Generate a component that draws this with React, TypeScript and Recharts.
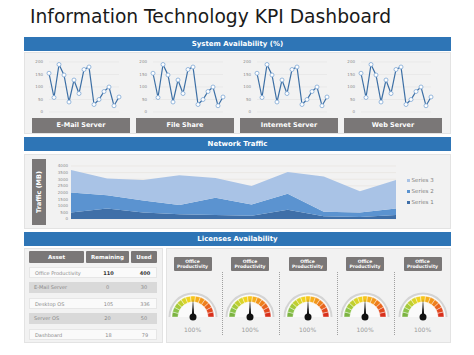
import React from 'react';
import { LineChart, Line, XAxis, YAxis, CartesianGrid, AreaChart, Area, Legend, PieChart, Pie, Cell } from 'recharts';

// system availability (%) - same series shown for each server
const serverNames = ['E-Mail Server', 'File Share', 'Internet Server', 'Web Server'];
const availability = [155, 58, 190, 148, 40, 128, 74, 170, 180, 30, 50, 82, 100, 25, 60];
const availabilityTicks = [0, 50, 100, 150, 200];

// network traffic (MB), stacked
const trafficSeries1 = [500, 800, 500, 350, 300, 250, 700, 200, 150, 300];
const trafficSeries2 = [1500, 1000, 900, 700, 1300, 850, 1200, 350, 350, 500];
const trafficSeries3 = [1700, 1250, 1550, 2250, 1500, 1400, 1650, 2650, 1600, 2150];
const trafficTicks = [0, 500, 1000, 1500, 2000, 2500, 3000, 3500, 4000];

// licenses table
const assetNames = ['Office Productivity', 'E-Mail Server', 'Desktop OS', 'Server OS', 'Dashboard'];
const remaining = [110, 0, 105, 20, 18];
const used = [400, 30, 336, 50, 79];

// gauges
const gaugeLabels = ['Office Productivity', 'Office Productivity', 'Office Productivity', 'Office Productivity', 'Office Productivity'];
const gaugePercent = [100, 100, 100, 100, 100];
const needlePositions = [50, 50, 50, 50, 50];
const bandColors = ['#7cb342', '#8bc34a', '#a5c93a', '#c0cf2f', '#d9d42a', '#f0d31f', '#f7c51c', '#f6ae1c', '#f2961c', '#ee7f1d', '#e8651e', '#e2491e', '#d8301c'];

const BLUE = '#2E75B6';
const GREY_BAR = '#7a7777';
const FONT = '"DejaVu Sans", Verdana, sans-serif';
const RADIAN = Math.PI / 180;

const availabilityData = availability.map((v, i) => ({ idx: i, value: v }));
const trafficData = trafficSeries1.map((v, i) => ({
  idx: i,
  s1: v,
  s2: trafficSeries2[i],
  s3: trafficSeries3[i],
}));
const bandData = bandColors.map((c) => ({ value: 1, fill: c }));
const ringData = [{ value: 100 }];

function HeaderBar({ title, top }: { title: string; top: number }) {
  return (
    <div
      style={{
        position: 'absolute',
        left: 24,
        top,
        width: 427,
        height: 14,
        background: BLUE,
        color: '#fff',
        fontWeight: 'bold',
        fontSize: 7,
        lineHeight: '14px',
        textAlign: 'center',
      }}>
      {title}
    </div>
  );
}

function Panel({ left, top, width, height }: { left: number; top: number; width: number; height: number }) {
  return (
    <div
      style={{
        position: 'absolute',
        left,
        top,
        width,
        height,
        background: '#f2f2f2',
        border: '1px solid #e3e3e3',
        boxSizing: 'border-box',
      }}
    />
  );
}

function ServerChart({ name, left }: { name: string; left: number }) {
  return (
    <div style={{ position: 'absolute', left, top: 56, width: 98 }}>
      <LineChart width={98} height={60} data={availabilityData} margin={{ top: 6, right: 11, bottom: 4, left: 0 }}>
        <CartesianGrid vertical={false} stroke='#e2e2e2' strokeWidth={0.6} />
        <XAxis dataKey='idx' hide />
        <YAxis
          domain={[0, 200]}
          ticks={availabilityTicks}
          interval={0}
          width={17}
          tick={{ fontSize: 4, fill: '#8c8c8c' }}
          tickLine={false}
          axisLine={false}
          tickSize={4}
          tickMargin={2}
        />
        <Line
          dataKey='value'
          stroke='#3c6fa5'
          strokeWidth={1.2}
          dot={{ r: 2, fill: '#fff', stroke: '#7fa8d6', strokeWidth: 0.8 }}
          isAnimationActive={false}
        />
      </LineChart>
      <div
        style={{
          position: 'absolute',
          left: 0,
          top: 62,
          width: 98,
          height: 15,
          background: GREY_BAR,
          color: '#fff',
          fontWeight: 'bold',
          fontSize: 6.5,
          lineHeight: '15px',
          textAlign: 'center',
        }}>
        {name}
      </div>
    </div>
  );
}

const renderLegend = (props: any) => {
  const items = [...(props.payload || [])].reverse();
  return (
    <div style={{ paddingLeft: 11 }}>
      {items.map((item: any) => (
        <div key={item.value} style={{ display: 'flex', alignItems: 'center', height: 11, fontSize: 5.5, color: '#7f7f7f' }}>
          <span style={{ width: 3, height: 3, background: item.color, marginRight: 1.5, display: 'inline-block' }} />
          {item.value}
        </div>
      ))}
    </div>
  );
};

// needle drawn on the end of the first (value) slice
const renderNeedle = (props: any) => {
  const { cx, cy, index, outerRadius } = props;
  if (index !== 0) return <g key={`n-${index}`} />;
  const angle = props.endAngle ?? props.midAngle;
  const c = Math.cos(-angle * RADIAN);
  const s = Math.sin(-angle * RADIAN);
  const tipX = cx + outerRadius * c;
  const tipY = cy + outerRadius * s;
  const w = 1.3;
  return (
    <g key='needle'>
      <polygon points={`${cx - w * s},${cy + w * c} ${tipX},${tipY} ${cx + w * s},${cy - w * c}`} fill='#111' />
      <circle cx={cx} cy={cy} r={3.5} fill='#111' />
    </g>
  );
};

function Gauge({ label, percent, needle, cx }: { label: string; percent: number; needle: number; cx: number }) {
  const needleData = [{ value: needle }, { value: 100 - needle }];
  const [l1, l2] = label.split(' ');
  return (
    <>
      <div
        style={{
          position: 'absolute',
          left: cx - 19,
          top: 257,
          width: 38,
          height: 14,
          background: GREY_BAR,
          borderRadius: 1,
          color: '#fff',
          fontWeight: 'bold',
          fontSize: 4.5,
          lineHeight: '5.5px',
          textAlign: 'center',
          paddingTop: 1.5,
          boxSizing: 'border-box',
        }}>
        {l1}
        <br />
        {l2}
      </div>
      <div style={{ position: 'absolute', left: cx - 28, top: 289, width: 56, height: 34 }}>
        <PieChart width={56} height={34} margin={{ top: 0, right: 0, bottom: 0, left: 0 }}>
          <Pie data={ringData} dataKey='value' cx={28} cy={28} startAngle={180} endAngle={0} innerRadius={0} outerRadius={24.5} fill='#d4d4d4' stroke='none' isAnimationActive={false} />
          <Pie data={ringData} dataKey='value' cx={28} cy={28} startAngle={180} endAngle={0} innerRadius={0} outerRadius={22.5} fill='#fafafa' stroke='none' isAnimationActive={false} />
          <Pie data={bandData} dataKey='value' cx={28} cy={28} startAngle={180} endAngle={0} innerRadius={15} outerRadius={21} stroke='#fff' strokeWidth={0.4} isAnimationActive={false}>
            {bandData.map((d, i) => (
              <Cell key={`b-${i}`} fill={d.fill} />
            ))}
          </Pie>
          <Pie
            data={needleData}
            dataKey='value'
            cx={28}
            cy={28}
            startAngle={180}
            endAngle={0}
            innerRadius={0}
            outerRadius={18}
            fill='none'
            stroke='none'
            label={renderNeedle}
            labelLine={false}
            isAnimationActive={false}
          />
        </PieChart>
      </div>
      <div style={{ position: 'absolute', left: cx - 20, top: 326, width: 40, textAlign: 'center', fontSize: 6, color: '#9a9a9a' }}>
        {percent}%
      </div>
    </>
  );
}

export default function App() {
  return (
    <div style={{ position: 'absolute', left: 0, top: 0, width: 474, height: 355, background: '#fff', fontFamily: FONT, overflow: 'hidden' }}>
      <div style={{ position: 'absolute', left: 30, top: 6, fontSize: 18.7, color: '#1a1a1a', whiteSpace: 'nowrap' }}>
        Information Technology KPI Dashboard
      </div>

      {/* System availability */}
      <HeaderBar title='System Availability (%)' top={37} />
      <Panel left={24} top={52} width={427} height={82} />
      {serverNames.map((name, i) => (
        <ServerChart key={name} name={name} left={32 + i * 104} />
      ))}

      {/* Network traffic */}
      <HeaderBar title='Network Traffic' top={137} />
      <Panel left={24} top={154} width={427} height={75} />
      <div
        style={{
          position: 'absolute',
          left: 32,
          top: 159,
          width: 14,
          height: 66,
          background: GREY_BAR,
          display: 'flex',
          alignItems: 'center',
          justifyContent: 'center',
        }}>
        <div style={{ transform: 'rotate(-90deg)', color: '#fff', fontWeight: 'bold', fontSize: 6.5, whiteSpace: 'nowrap' }}>Traffic (MB)</div>
      </div>
      <div style={{ position: 'absolute', left: 44, top: 160 }}>
        <AreaChart width={406} height={62} data={trafficData} margin={{ top: 6, right: 2, bottom: 3, left: 3 }}>
          <CartesianGrid vertical={false} stroke='#e6e1dc' strokeWidth={0.6} />
          <XAxis dataKey='idx' hide />
          <YAxis
            domain={[0, 4000]}
            ticks={trafficTicks}
            interval={0}
            width={24}
            tick={{ fontSize: 4, fill: '#8c8c8c' }}
            tickLine={false}
            axisLine={false}
            tickSize={2}
            tickMargin={1}
          />
          <Area type='linear' dataKey='s1' name='Series 1' stackId='t' stroke='none' fill='#3f6fa8' fillOpacity={1} isAnimationActive={false} />
          <Area type='linear' dataKey='s2' name='Series 2' stackId='t' stroke='none' fill='#5b93d0' fillOpacity={1} isAnimationActive={false} />
          <Area type='linear' dataKey='s3' name='Series 3' stackId='t' stroke='none' fill='#a9c3e6' fillOpacity={1} isAnimationActive={false} />
          <Legend layout='vertical' align='right' verticalAlign='middle' width={52} content={renderLegend} />
        </AreaChart>
      </div>

      {/* Licenses */}
      <HeaderBar title='Licenses Availability' top={232} />
      <Panel left={24} top={248} width={139} height={95} />
      <Panel left={166} top={248} width={285} height={95} />

      {[
        { t: 'Asset', l: 29, w: 55 },
        { t: 'Remaining', l: 86, w: 43 },
        { t: 'Used', l: 131, w: 26 },
      ].map((h) => (
        <div
          key={h.t}
          style={{
            position: 'absolute',
            left: h.l,
            top: 251,
            width: h.w,
            height: 12,
            background: GREY_BAR,
            borderRadius: 1,
            color: '#fff',
            fontWeight: 'bold',
            fontSize: 5.5,
            lineHeight: '12px',
            textAlign: 'center',
          }}>
          {h.t}
        </div>
      ))}
      {assetNames.map((name, i) => {
        const top = 267 + i * 15.4;
        const grey = i % 2 === 1;
        const bold = i === 0;
        const cellText = { position: 'absolute' as const, top: 0, lineHeight: '11px', fontSize: 5, textAlign: 'center' as const, color: bold ? '#333' : '#8a8a8a', fontWeight: bold ? 'bold' : 'normal' };
        return (
          <div
            key={name}
            style={{
              position: 'absolute',
              left: 29,
              top,
              width: 128,
              height: 11,
              background: grey ? '#d9d9d9' : '#fafafa',
              border: grey ? 'none' : '1px solid #e6e6e6',
              boxSizing: 'border-box',
            }}>
            <div style={{ position: 'absolute', left: 5, top: 0, lineHeight: '11px', fontSize: 5, color: '#8a8a8a' }}>{name}</div>
            <div style={{ ...cellText, left: 57, width: 43 }}>{remaining[i]}</div>
            <div style={{ ...cellText, left: 102, width: 26 }}>{used[i]}</div>
          </div>
        );
      })}

      {[0, 1, 2, 3].map((i) => (
        <div key={`sep-${i}`} style={{ position: 'absolute', left: 221.5 + i * 57.5, top: 272, height: 63, borderLeft: '1px dotted #a0a0a0' }} />
      ))}
      {gaugeLabels.map((label, i) => (
        <Gauge key={`g-${i}`} label={label} percent={gaugePercent[i]} needle={needlePositions[i]} cx={192.5 + i * 57.5} />
      ))}
    </div>
  );
}
